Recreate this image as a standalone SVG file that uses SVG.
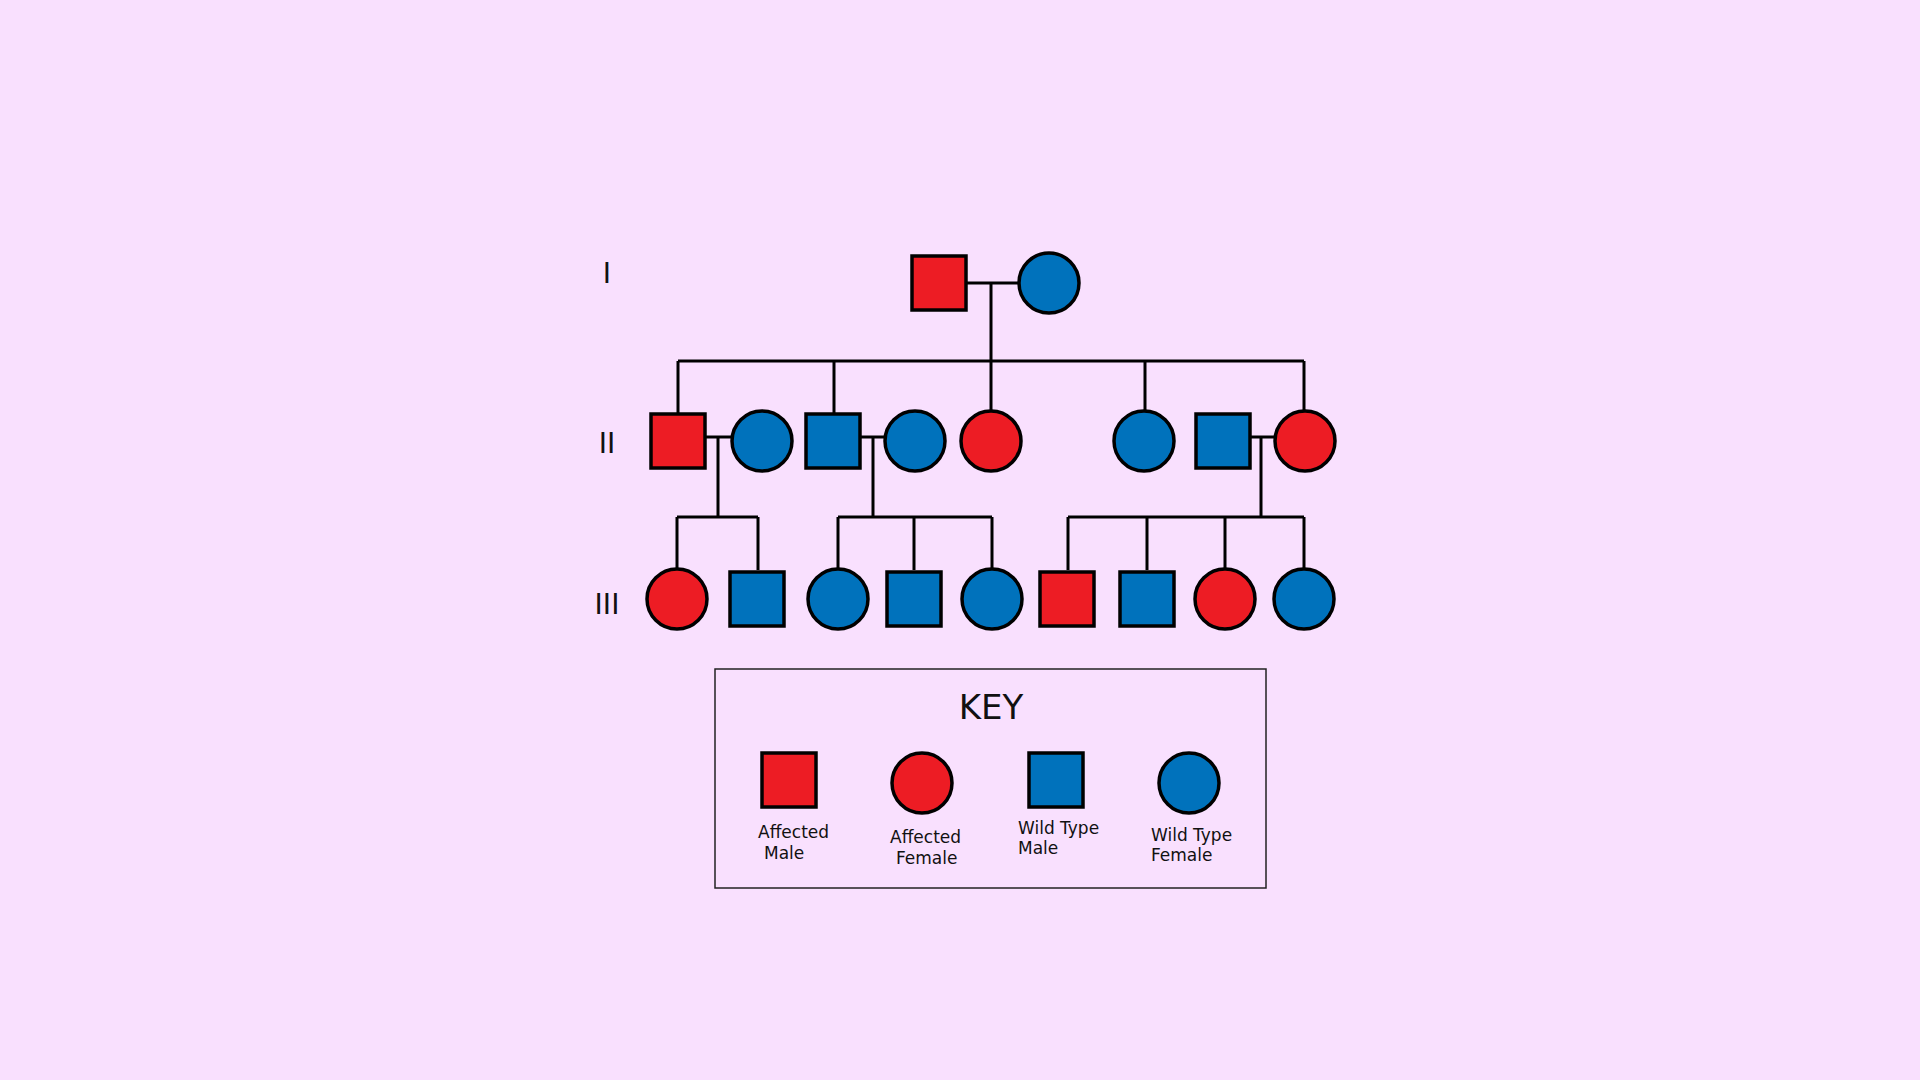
<svg xmlns="http://www.w3.org/2000/svg" width="1920" height="1080" viewBox="0 0 1920 1080">
<style>
.r{fill:#ED1C24;stroke:#000;stroke-width:3.5}
.b{fill:#0072BC;stroke:#000;stroke-width:3.5}
.c path{fill:none;stroke:#000;stroke-width:3}
.g{font-family:"DejaVu Sans",sans-serif;font-size:28px;fill:#111;text-anchor:middle}
.k{font-family:"DejaVu Sans",sans-serif;font-size:17px;fill:#111}
</style>
<rect width="1920" height="1080" fill="#F9E0FE"/>
<text class="g" x="607" y="283">I</text>
<text class="g" x="607" y="453">II</text>
<text class="g" x="607" y="614">III</text>
<g class="c" id="connectors">
<path d="M966 283H1020M991 283V361M678 361H1304M678 361V414M834 361V414M991 361V414M1145 361V414M1304 361V414"/>
<path d="M705 437H732M718 437V517M677 517H758M677 517V570M758 517V570"/>
<path d="M860 437H885M873 437V517M838 517H992M838 517V570M914 517V570M992 517V570"/>
<path d="M1250 437H1275M1261 437V517M1068 517H1304M1068 517V570M1147 517V570M1225 517V570M1304 517V570"/>
</g>
<g id="I1"><rect class="r" x="912" y="256" width="54" height="54"/></g>
<g id="I2"><circle class="b" cx="1049" cy="283" r="30"/></g>
<g id="II1"><rect class="r" x="651" y="414" width="54" height="54"/></g>
<g id="II2"><circle class="b" cx="762" cy="441" r="30"/></g>
<g id="II3"><rect class="b" x="806" y="414" width="54" height="54"/></g>
<g id="II4"><circle class="b" cx="915" cy="441" r="30"/></g>
<g id="II5"><circle class="r" cx="991" cy="441" r="30"/></g>
<g id="II6"><circle class="b" cx="1144" cy="441" r="30"/></g>
<g id="II7"><rect class="b" x="1196" y="414" width="54" height="54"/></g>
<g id="II8"><circle class="r" cx="1305" cy="441" r="30"/></g>
<g id="III1"><circle class="r" cx="677" cy="599" r="30"/></g>
<g id="III2"><rect class="b" x="730" y="572" width="54" height="54"/></g>
<g id="III3"><circle class="b" cx="838" cy="599" r="30"/></g>
<g id="III4"><rect class="b" x="887" y="572" width="54" height="54"/></g>
<g id="III5"><circle class="b" cx="992" cy="599" r="30"/></g>
<g id="III6"><rect class="r" x="1040" y="572" width="54" height="54"/></g>
<g id="III7"><rect class="b" x="1120" y="572" width="54" height="54"/></g>
<g id="III8"><circle class="r" cx="1225" cy="599" r="30"/></g>
<g id="III9"><circle class="b" cx="1304" cy="599" r="30"/></g>
<g id="key">
<rect x="715" y="669" width="551" height="219" fill="none" stroke="#222" stroke-width="1.5"/>
<text x="991" y="719" font-family="DejaVu Sans, sans-serif" font-size="34" fill="#111" text-anchor="middle">KEY</text>
<rect class="r" x="762" y="753" width="54" height="54"/>
<circle class="r" cx="922" cy="783" r="30"/>
<rect class="b" x="1029" y="753" width="54" height="54"/>
<circle class="b" cx="1189" cy="783" r="30"/>
<text class="k" x="758" y="838">Affected</text><text class="k" x="764" y="859">Male</text>
<text class="k" x="890" y="843">Affected</text><text class="k" x="896" y="864">Female</text>
<text class="k" x="1018" y="834">Wild Type</text><text class="k" x="1018" y="854">Male</text>
<text class="k" x="1151" y="841">Wild Type</text><text class="k" x="1151" y="861">Female</text>
</g>
</svg>
